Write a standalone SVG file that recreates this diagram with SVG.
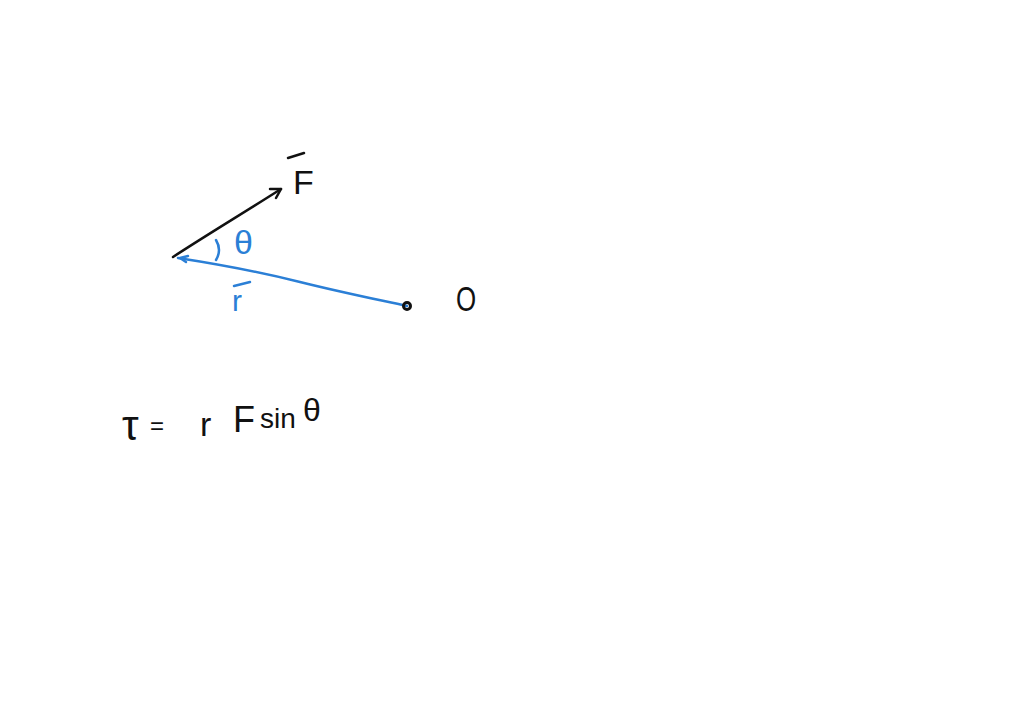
<svg xmlns="http://www.w3.org/2000/svg" width="1024" height="712" viewBox="0 0 1024 712">
<style>
.k{fill:none;stroke:#111;stroke-width:2.5;stroke-linecap:round;stroke-linejoin:round}
.b{fill:none;stroke:#2b7fd6;stroke-width:2.5;stroke-linecap:round;stroke-linejoin:round}
.tk{font-family:"Liberation Sans",Arial,sans-serif;fill:#111}
.tb{font-family:"Liberation Sans",Arial,sans-serif;fill:#2b7fd6}
</style>
<rect width="1024" height="712" fill="#fff"/>
<g id="connectors">
<path class="k" d="M173,257 C205,236 245,212 281,189"/>
<path class="k" d="M270,189 L281,189 L276,198"/>
<path class="b" d="M178,258 C230,266 260,272 300,282 C340,292 370,298 407,306"/>
<path class="b" d="M186,262 L180,258 L188,256"/>
<path class="b" d="M216,240 Q222,250 216,260"/>
</g>
<g id="force">
<text class="tk" x="293" y="194" font-size="34">F</text>
<path class="k" d="M288,158 L304,153"/>
</g>
<g id="theta">
<text class="tb" x="234" y="254" font-size="34">θ</text>
</g>
<g id="r">
<text class="tb" x="232" y="311" font-size="30">r</text>
<path class="b" d="M234,286 L250,282"/>
</g>
<g id="origin">
<circle cx="407" cy="306" r="3.5" fill="none" stroke="#111" stroke-width="3"/>
<text class="tk" x="0" y="311" font-size="36" transform="translate(456 0) scale(0.72 1)">O</text>
</g>
<g id="equation">
<text class="tk" x="122" y="440" font-size="42">τ</text>
<text class="tk" x="150" y="434" font-size="24">=</text>
<text class="tk" x="200" y="436" font-size="34">r</text>
<text class="tk" x="233" y="432" font-size="36">F</text>
<text class="tk" x="260" y="428" font-size="28">sin</text>
<text class="tk" x="303" y="421" font-size="32">θ</text>
</g>
</svg>
